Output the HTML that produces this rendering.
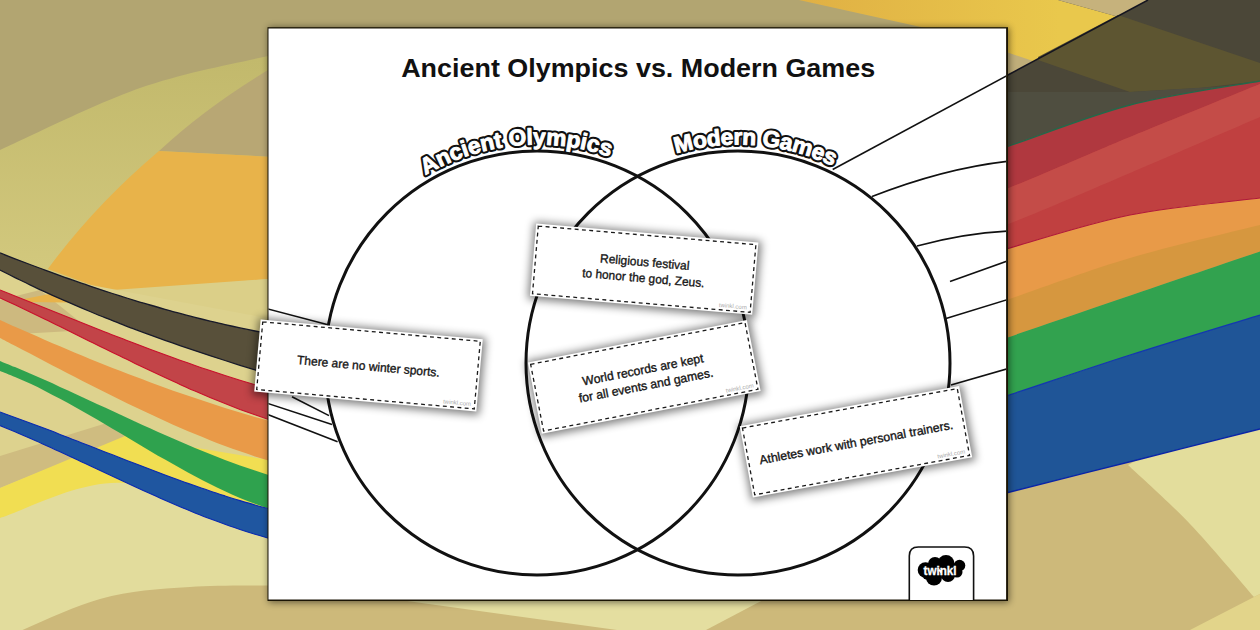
<!DOCTYPE html>
<html><head><meta charset="utf-8"><style>
html,body{margin:0;padding:0;width:1260px;height:630px;overflow:hidden;background:#b2a571;}
svg{display:block;}
</style></head><body>
<svg width="1260" height="630" viewBox="0 0 1260 630">
<defs>
<filter id="pshadow" x="-10%" y="-10%" width="120%" height="120%"><feGaussianBlur stdDeviation="3.5"/></filter>
<filter id="cshadow" x="-20%" y="-50%" width="140%" height="200%"><feGaussianBlur stdDeviation="4"/></filter>
<linearGradient id="yg" x1="800" y1="0" x2="1060" y2="0" gradientUnits="userSpaceOnUse"><stop offset="0" stop-color="#e0b044"/><stop offset="1" stop-color="#e9c84c"/></linearGradient>
<linearGradient id="pg" x1="0" y1="60" x2="0" y2="280" gradientUnits="userSpaceOnUse"><stop offset="0" stop-color="#c2b96c"/><stop offset="1" stop-color="#d3c97e"/></linearGradient>
<clipPath id="pclip"><rect x="268.5" y="28.5" width="737.6" height="571"/></clipPath>
<path id="arc1" d="M347.8,253.7 A218.5,218.5 0 0 1 726.2,253.7"/>
<path id="arc2" d="M548.8,253.7 A218.5,218.5 0 0 1 927.2,253.7"/>
</defs>
<rect x="0" y="0" width="1260" height="630" fill="#b2a571"/>
<path d="M0.0,150.0 C23.3,139.7 95.3,103.7 140.0,88.0 C184.7,72.3 236.3,63.2 268.0,56.0 C299.7,48.8 319.7,46.8 330.0,45.0 L330.0,700.0 L0.0,700.0Z" fill="url(#pg)" />
<path d="M330,60 L268,70 Q205,108 159,151 L330,160 Z" fill="#b8a774"/>
<path d="M159,151 L330,160 L330,277 L268,279 L113,293 L47.8,269 Q95,205 159,151 Z" fill="#e8b34a"/>
<polygon points="113.0,290.0 268.0,279.0 330.0,276.0 330.0,345.0 200.0,328.0" fill="#dbcf88" />
<polygon points="0.0,268.0 330.0,330.0 330.0,560.0 0.0,560.0" fill="#ddd28e" />
<polygon points="0.0,300.0 40.0,290.0 90.0,330.0 0.0,335.0" fill="#cdb97f" />
<polygon points="0.0,456.0 110.0,422.0 140.0,432.0 0.0,488.0" fill="#cfbc80" />
<polygon points="24.0,299.0 60.0,292.0 100.0,303.0 30.0,302.0" fill="#e8b34a" />
<polygon points="0.0,488.0 125.0,436.0 330.0,470.0 330.0,548.0 124.0,483.0 0.0,518.0" fill="#f1de52" />
<path d="M0.0,518.0 C20.7,512.2 79.3,479.7 124.0,483.0 C168.7,486.3 233.7,527.2 268.0,538.0 C302.3,548.8 319.7,546.3 330.0,548.0 L330.0,640.0 L0.0,640.0Z" fill="#e2dc9c" />
<path d="M0.0,640.0 C16.7,633.2 68.3,607.8 100.0,599.0 C131.7,590.2 156.7,589.2 190.0,587.0 C223.3,584.8 276.7,585.8 300.0,586.0 C323.3,586.2 325.0,587.7 330.0,588.0 L330.0,640.0 L0.0,640.0Z" fill="#cdb97a" />
<path d="M0.0,252.9 C2.5,253.9 10.0,256.9 15.0,258.8 C20.0,260.7 25.0,262.6 30.0,264.5 C35.0,266.4 40.0,268.3 45.0,270.1 C50.0,272.0 55.0,273.8 60.0,275.6 C65.0,277.4 70.0,279.2 75.0,280.9 C80.0,282.7 85.0,284.4 90.0,286.1 C95.0,287.8 100.0,289.4 105.0,291.1 C110.0,292.7 115.0,294.3 120.0,295.9 C125.0,297.5 130.0,299.0 135.0,300.6 C140.0,302.1 145.0,303.6 150.0,305.0 C155.0,306.5 160.0,307.9 165.0,309.3 C170.0,310.7 175.0,312.1 180.0,313.4 C185.0,314.8 190.0,316.1 195.0,317.4 C200.0,318.6 205.0,319.9 210.0,321.1 C215.0,322.3 220.0,323.5 225.0,324.6 C230.0,325.7 235.0,326.8 240.0,327.9 C245.0,328.9 250.0,330.0 255.0,331.0 C260.0,331.9 265.0,332.9 270.0,333.8 C275.0,334.7 280.0,335.6 285.0,336.4 C290.0,337.3 295.0,338.1 300.0,338.8 C305.0,339.6 310.0,340.3 315.0,341.0 C320.0,341.6 327.5,342.5 330.0,342.9 L330.0,392.1 C327.5,391.3 320.0,389.2 315.0,387.7 C310.0,386.3 305.0,384.8 300.0,383.4 C295.0,381.9 290.0,380.4 285.0,379.0 C280.0,377.5 275.0,376.0 270.0,374.5 C265.0,373.0 260.0,371.5 255.0,369.9 C250.0,368.4 245.0,366.8 240.0,365.3 C235.0,363.7 230.0,362.1 225.0,360.5 C220.0,358.9 215.0,357.3 210.0,355.7 C205.0,354.0 200.0,352.4 195.0,350.7 C190.0,349.0 185.0,347.3 180.0,345.6 C175.0,343.8 170.0,342.1 165.0,340.3 C160.0,338.5 155.0,336.7 150.0,334.9 C145.0,333.1 140.0,331.2 135.0,329.3 C130.0,327.5 125.0,325.5 120.0,323.6 C115.0,321.7 110.0,319.7 105.0,317.7 C100.0,315.7 95.0,313.6 90.0,311.5 C85.0,309.5 80.0,307.4 75.0,305.2 C70.0,303.1 65.0,300.9 60.0,298.7 C55.0,296.4 50.0,294.2 45.0,291.9 C40.0,289.6 35.0,287.2 30.0,284.8 C25.0,282.5 20.0,280.0 15.0,277.6 C10.0,275.1 2.5,271.3 0.0,270.0 Z" fill="#58503a" />
<path d="M0.0,289.9 C2.5,290.9 10.0,293.9 15.0,295.9 C20.0,297.9 25.0,299.9 30.0,301.9 C35.0,303.9 40.0,306.0 45.0,308.0 C50.0,310.0 55.0,312.0 60.0,314.0 C65.0,316.0 70.0,318.0 75.0,320.0 C80.0,322.0 85.0,324.0 90.0,326.0 C95.0,328.0 100.0,329.9 105.0,331.9 C110.0,333.9 115.0,335.8 120.0,337.7 C125.0,339.7 130.0,341.6 135.0,343.5 C140.0,345.4 145.0,347.3 150.0,349.2 C155.0,351.0 160.0,352.9 165.0,354.7 C170.0,356.6 175.0,358.4 180.0,360.2 C185.0,361.9 190.0,363.7 195.0,365.4 C200.0,367.2 205.0,368.9 210.0,370.6 C215.0,372.2 220.0,373.9 225.0,375.5 C230.0,377.1 235.0,378.7 240.0,380.3 C245.0,381.8 250.0,383.3 255.0,384.8 C260.0,386.3 265.0,387.7 270.0,389.1 C275.0,390.5 280.0,391.9 285.0,393.2 C290.0,394.5 295.0,395.8 300.0,397.0 C305.0,398.2 310.0,399.4 315.0,400.6 C320.0,401.7 327.5,403.3 330.0,403.8 L330.0,435.6 C327.5,435.1 320.0,433.6 315.0,432.4 C310.0,431.3 305.0,430.0 300.0,428.7 C295.0,427.4 290.0,426.0 285.0,424.5 C280.0,423.0 275.0,421.5 270.0,419.9 C265.0,418.2 260.0,416.5 255.0,414.8 C250.0,413.0 245.0,411.2 240.0,409.4 C235.0,407.5 230.0,405.5 225.0,403.6 C220.0,401.6 215.0,399.5 210.0,397.5 C205.0,395.4 200.0,393.2 195.0,391.1 C190.0,388.9 185.0,386.7 180.0,384.4 C175.0,382.2 170.0,379.9 165.0,377.6 C160.0,375.3 155.0,372.9 150.0,370.6 C145.0,368.2 140.0,365.8 135.0,363.4 C130.0,361.0 125.0,358.6 120.0,356.1 C115.0,353.7 110.0,351.2 105.0,348.8 C100.0,346.3 95.0,343.8 90.0,341.4 C85.0,338.9 80.0,336.4 75.0,333.9 C70.0,331.5 65.0,329.0 60.0,326.6 C55.0,324.1 50.0,321.6 45.0,319.2 C40.0,316.8 35.0,314.4 30.0,312.0 C25.0,309.6 20.0,307.2 15.0,304.8 C10.0,302.5 2.5,299.0 0.0,297.9 Z" fill="#c24448" />
<path d="M0.0,319.9 C2.5,321.0 10.0,324.4 15.0,326.7 C20.0,328.9 25.0,331.1 30.0,333.3 C35.0,335.5 40.0,337.7 45.0,339.9 C50.0,342.1 55.0,344.2 60.0,346.3 C65.0,348.5 70.0,350.6 75.0,352.7 C80.0,354.7 85.0,356.8 90.0,358.9 C95.0,360.9 100.0,362.9 105.0,364.9 C110.0,366.9 115.0,368.9 120.0,370.8 C125.0,372.8 130.0,374.7 135.0,376.6 C140.0,378.5 145.0,380.4 150.0,382.2 C155.0,384.1 160.0,385.9 165.0,387.7 C170.0,389.5 175.0,391.3 180.0,393.0 C185.0,394.7 190.0,396.5 195.0,398.1 C200.0,399.8 205.0,401.5 210.0,403.1 C215.0,404.7 220.0,406.3 225.0,407.9 C230.0,409.4 235.0,411.0 240.0,412.5 C245.0,414.0 250.0,415.4 255.0,416.9 C260.0,418.3 265.0,419.7 270.0,421.1 C275.0,422.4 280.0,423.8 285.0,425.1 C290.0,426.4 295.0,427.6 300.0,428.9 C305.0,430.1 310.0,431.3 315.0,432.5 C320.0,433.6 327.5,435.3 330.0,435.8 L330.0,474.9 C327.5,474.4 320.0,473.1 315.0,472.1 C310.0,471.2 305.0,470.1 300.0,468.9 C295.0,467.7 290.0,466.5 285.0,465.2 C280.0,463.9 275.0,462.5 270.0,461.0 C265.0,459.5 260.0,458.0 255.0,456.4 C250.0,454.7 245.0,453.1 240.0,451.3 C235.0,449.6 230.0,447.8 225.0,445.9 C220.0,444.1 215.0,442.1 210.0,440.2 C205.0,438.2 200.0,436.1 195.0,434.1 C190.0,432.0 185.0,429.9 180.0,427.7 C175.0,425.5 170.0,423.3 165.0,421.0 C160.0,418.8 155.0,416.5 150.0,414.1 C145.0,411.8 140.0,409.4 135.0,407.0 C130.0,404.6 125.0,402.2 120.0,399.7 C115.0,397.3 110.0,394.8 105.0,392.3 C100.0,389.8 95.0,387.3 90.0,384.7 C85.0,382.2 80.0,379.6 75.0,377.0 C70.0,374.5 65.0,371.9 60.0,369.3 C55.0,366.7 50.0,364.1 45.0,361.5 C40.0,358.9 35.0,356.2 30.0,353.6 C25.0,351.0 20.0,348.4 15.0,345.8 C10.0,343.2 2.5,339.3 0.0,338.0 Z" fill="#e99a48" />
<path d="M0.0,360.9 C2.5,362.0 10.0,365.0 15.0,367.1 C20.0,369.2 25.0,371.4 30.0,373.5 C35.0,375.7 40.0,377.9 45.0,380.1 C50.0,382.3 55.0,384.6 60.0,386.9 C65.0,389.1 70.0,391.4 75.0,393.7 C80.0,396.0 85.0,398.3 90.0,400.7 C95.0,403.0 100.0,405.3 105.0,407.6 C110.0,409.9 115.0,412.3 120.0,414.6 C125.0,416.9 130.0,419.2 135.0,421.5 C140.0,423.8 145.0,426.1 150.0,428.3 C155.0,430.6 160.0,432.8 165.0,435.1 C170.0,437.3 175.0,439.5 180.0,441.6 C185.0,443.8 190.0,445.9 195.0,448.0 C200.0,450.1 205.0,452.1 210.0,454.1 C215.0,456.1 220.0,458.0 225.0,459.9 C230.0,461.8 235.0,463.7 240.0,465.5 C245.0,467.3 250.0,469.0 255.0,470.6 C260.0,472.3 265.0,473.9 270.0,475.4 C275.0,476.9 280.0,478.4 285.0,479.8 C290.0,481.1 295.0,482.4 300.0,483.6 C305.0,484.8 310.0,486.0 315.0,487.0 C320.0,488.0 327.5,489.4 330.0,489.8 L330.0,519.7 C327.5,519.5 320.0,519.2 315.0,518.6 C310.0,518.1 305.0,517.3 300.0,516.4 C295.0,515.5 290.0,514.4 285.0,513.2 C280.0,511.9 275.0,510.5 270.0,508.9 C265.0,507.3 260.0,505.6 255.0,503.8 C250.0,501.9 245.0,499.9 240.0,497.9 C235.0,495.8 230.0,493.5 225.0,491.2 C220.0,488.9 215.0,486.5 210.0,484.0 C205.0,481.5 200.0,478.9 195.0,476.3 C190.0,473.6 185.0,470.9 180.0,468.1 C175.0,465.3 170.0,462.5 165.0,459.6 C160.0,456.8 155.0,453.8 150.0,450.9 C145.0,448.0 140.0,445.0 135.0,442.0 C130.0,439.1 125.0,436.1 120.0,433.1 C115.0,430.1 110.0,427.2 105.0,424.2 C100.0,421.3 95.0,418.3 90.0,415.5 C85.0,412.6 80.0,409.7 75.0,406.9 C70.0,404.2 65.0,401.4 60.0,398.7 C55.0,396.1 50.0,393.5 45.0,390.9 C40.0,388.4 35.0,386.0 30.0,383.6 C25.0,381.3 20.0,379.1 15.0,376.9 C10.0,374.8 2.5,371.9 0.0,370.9 Z" fill="#2fa24e" />
<path d="M0.0,412.0 C2.5,412.9 10.0,415.6 15.0,417.4 C20.0,419.2 25.0,421.1 30.0,422.9 C35.0,424.8 40.0,426.7 45.0,428.6 C50.0,430.5 55.0,432.4 60.0,434.4 C65.0,436.3 70.0,438.2 75.0,440.2 C80.0,442.1 85.0,444.1 90.0,446.1 C95.0,448.0 100.0,450.0 105.0,451.9 C110.0,453.9 115.0,455.8 120.0,457.8 C125.0,459.7 130.0,461.7 135.0,463.6 C140.0,465.5 145.0,467.4 150.0,469.3 C155.0,471.2 160.0,473.1 165.0,475.0 C170.0,476.8 175.0,478.7 180.0,480.5 C185.0,482.3 190.0,484.1 195.0,485.8 C200.0,487.6 205.0,489.3 210.0,491.0 C215.0,492.7 220.0,494.3 225.0,495.9 C230.0,497.5 235.0,499.1 240.0,500.6 C245.0,502.1 250.0,503.6 255.0,505.0 C260.0,506.5 265.0,507.8 270.0,509.2 C275.0,510.5 280.0,511.7 285.0,512.9 C290.0,514.2 295.0,515.3 300.0,516.4 C305.0,517.5 310.0,518.5 315.0,519.4 C320.0,520.4 327.5,521.6 330.0,522.1 L330.0,550.0 C327.5,549.7 320.0,548.8 315.0,548.1 C310.0,547.3 305.0,546.5 300.0,545.5 C295.0,544.5 290.0,543.5 285.0,542.3 C280.0,541.2 275.0,539.9 270.0,538.6 C265.0,537.2 260.0,535.8 255.0,534.3 C250.0,532.8 245.0,531.2 240.0,529.5 C235.0,527.9 230.0,526.1 225.0,524.3 C220.0,522.5 215.0,520.7 210.0,518.8 C205.0,516.9 200.0,514.9 195.0,512.9 C190.0,510.8 185.0,508.8 180.0,506.7 C175.0,504.5 170.0,502.4 165.0,500.2 C160.0,498.0 155.0,495.8 150.0,493.5 C145.0,491.3 140.0,489.0 135.0,486.7 C130.0,484.4 125.0,482.1 120.0,479.8 C115.0,477.5 110.0,475.1 105.0,472.8 C100.0,470.4 95.0,468.1 90.0,465.7 C85.0,463.4 80.0,461.1 75.0,458.7 C70.0,456.4 65.0,454.1 60.0,451.8 C55.0,449.5 50.0,447.2 45.0,445.0 C40.0,442.7 35.0,440.5 30.0,438.3 C25.0,436.1 20.0,433.9 15.0,431.8 C10.0,429.7 2.5,426.6 0.0,425.6 Z" fill="#1f56a0" />
<path d="M0.0,252.9 C2.5,253.9 10.0,256.9 15.0,258.8 C20.0,260.7 25.0,262.6 30.0,264.5 C35.0,266.4 40.0,268.3 45.0,270.1 C50.0,272.0 55.0,273.8 60.0,275.6 C65.0,277.4 70.0,279.2 75.0,280.9 C80.0,282.7 85.0,284.4 90.0,286.1 C95.0,287.8 100.0,289.4 105.0,291.1 C110.0,292.7 115.0,294.3 120.0,295.9 C125.0,297.5 130.0,299.0 135.0,300.6 C140.0,302.1 145.0,303.6 150.0,305.0 C155.0,306.5 160.0,307.9 165.0,309.3 C170.0,310.7 175.0,312.1 180.0,313.4 C185.0,314.8 190.0,316.1 195.0,317.4 C200.0,318.6 205.0,319.9 210.0,321.1 C215.0,322.3 220.0,323.5 225.0,324.6 C230.0,325.7 235.0,326.8 240.0,327.9 C245.0,328.9 250.0,330.0 255.0,331.0 C260.0,331.9 265.0,332.9 270.0,333.8 C275.0,334.7 280.0,335.6 285.0,336.4 C290.0,337.3 295.0,338.1 300.0,338.8 C305.0,339.6 310.0,340.3 315.0,341.0 C320.0,341.6 327.5,342.5 330.0,342.9 " fill="none" stroke="#181a2a" stroke-width="1.3" />
<path d="M0.0,270.0 C2.5,271.3 10.0,275.1 15.0,277.6 C20.0,280.0 25.0,282.5 30.0,284.8 C35.0,287.2 40.0,289.6 45.0,291.9 C50.0,294.2 55.0,296.4 60.0,298.7 C65.0,300.9 70.0,303.1 75.0,305.2 C80.0,307.4 85.0,309.5 90.0,311.5 C95.0,313.6 100.0,315.7 105.0,317.7 C110.0,319.7 115.0,321.7 120.0,323.6 C125.0,325.5 130.0,327.5 135.0,329.3 C140.0,331.2 145.0,333.1 150.0,334.9 C155.0,336.7 160.0,338.5 165.0,340.3 C170.0,342.1 175.0,343.8 180.0,345.6 C185.0,347.3 190.0,349.0 195.0,350.7 C200.0,352.4 205.0,354.0 210.0,355.7 C215.0,357.3 220.0,358.9 225.0,360.5 C230.0,362.1 235.0,363.7 240.0,365.3 C245.0,366.8 250.0,368.4 255.0,369.9 C260.0,371.5 265.0,373.0 270.0,374.5 C275.0,376.0 280.0,377.5 285.0,379.0 C290.0,380.4 295.0,381.9 300.0,383.4 C305.0,384.8 310.0,386.3 315.0,387.7 C320.0,389.2 327.5,391.3 330.0,392.1 " fill="none" stroke="#181a2a" stroke-width="1.3" />
<path d="M0.0,289.9 C2.5,290.9 10.0,293.9 15.0,295.9 C20.0,297.9 25.0,299.9 30.0,301.9 C35.0,303.9 40.0,306.0 45.0,308.0 C50.0,310.0 55.0,312.0 60.0,314.0 C65.0,316.0 70.0,318.0 75.0,320.0 C80.0,322.0 85.0,324.0 90.0,326.0 C95.0,328.0 100.0,329.9 105.0,331.9 C110.0,333.9 115.0,335.8 120.0,337.7 C125.0,339.7 130.0,341.6 135.0,343.5 C140.0,345.4 145.0,347.3 150.0,349.2 C155.0,351.0 160.0,352.9 165.0,354.7 C170.0,356.6 175.0,358.4 180.0,360.2 C185.0,361.9 190.0,363.7 195.0,365.4 C200.0,367.2 205.0,368.9 210.0,370.6 C215.0,372.2 220.0,373.9 225.0,375.5 C230.0,377.1 235.0,378.7 240.0,380.3 C245.0,381.8 250.0,383.3 255.0,384.8 C260.0,386.3 265.0,387.7 270.0,389.1 C275.0,390.5 280.0,391.9 285.0,393.2 C290.0,394.5 295.0,395.8 300.0,397.0 C305.0,398.2 310.0,399.4 315.0,400.6 C320.0,401.7 327.5,403.3 330.0,403.8 " fill="none" stroke="#c8102c" stroke-width="1.1" />
<path d="M0.0,297.9 C2.5,299.0 10.0,302.5 15.0,304.8 C20.0,307.2 25.0,309.6 30.0,312.0 C35.0,314.4 40.0,316.8 45.0,319.2 C50.0,321.6 55.0,324.1 60.0,326.6 C65.0,329.0 70.0,331.5 75.0,333.9 C80.0,336.4 85.0,338.9 90.0,341.4 C95.0,343.8 100.0,346.3 105.0,348.8 C110.0,351.2 115.0,353.7 120.0,356.1 C125.0,358.6 130.0,361.0 135.0,363.4 C140.0,365.8 145.0,368.2 150.0,370.6 C155.0,372.9 160.0,375.3 165.0,377.6 C170.0,379.9 175.0,382.2 180.0,384.4 C185.0,386.7 190.0,388.9 195.0,391.1 C200.0,393.2 205.0,395.4 210.0,397.5 C215.0,399.5 220.0,401.6 225.0,403.6 C230.0,405.5 235.0,407.5 240.0,409.4 C245.0,411.2 250.0,413.0 255.0,414.8 C260.0,416.5 265.0,418.2 270.0,419.9 C275.0,421.5 280.0,423.0 285.0,424.5 C290.0,426.0 295.0,427.4 300.0,428.7 C305.0,430.0 310.0,431.3 315.0,432.4 C320.0,433.6 327.5,435.1 330.0,435.6 " fill="none" stroke="#c8102c" stroke-width="1.1" />
<path d="M0.0,412.0 C2.5,412.9 10.0,415.6 15.0,417.4 C20.0,419.2 25.0,421.1 30.0,422.9 C35.0,424.8 40.0,426.7 45.0,428.6 C50.0,430.5 55.0,432.4 60.0,434.4 C65.0,436.3 70.0,438.2 75.0,440.2 C80.0,442.1 85.0,444.1 90.0,446.1 C95.0,448.0 100.0,450.0 105.0,451.9 C110.0,453.9 115.0,455.8 120.0,457.8 C125.0,459.7 130.0,461.7 135.0,463.6 C140.0,465.5 145.0,467.4 150.0,469.3 C155.0,471.2 160.0,473.1 165.0,475.0 C170.0,476.8 175.0,478.7 180.0,480.5 C185.0,482.3 190.0,484.1 195.0,485.8 C200.0,487.6 205.0,489.3 210.0,491.0 C215.0,492.7 220.0,494.3 225.0,495.9 C230.0,497.5 235.0,499.1 240.0,500.6 C245.0,502.1 250.0,503.6 255.0,505.0 C260.0,506.5 265.0,507.8 270.0,509.2 C275.0,510.5 280.0,511.7 285.0,512.9 C290.0,514.2 295.0,515.3 300.0,516.4 C305.0,517.5 310.0,518.5 315.0,519.4 C320.0,520.4 327.5,521.6 330.0,522.1 " fill="none" stroke="#0a2ab0" stroke-width="1.1" />
<path d="M0.0,425.6 C2.5,426.6 10.0,429.7 15.0,431.8 C20.0,433.9 25.0,436.1 30.0,438.3 C35.0,440.5 40.0,442.7 45.0,445.0 C50.0,447.2 55.0,449.5 60.0,451.8 C65.0,454.1 70.0,456.4 75.0,458.7 C80.0,461.1 85.0,463.4 90.0,465.7 C95.0,468.1 100.0,470.4 105.0,472.8 C110.0,475.1 115.0,477.5 120.0,479.8 C125.0,482.1 130.0,484.4 135.0,486.7 C140.0,489.0 145.0,491.3 150.0,493.5 C155.0,495.8 160.0,498.0 165.0,500.2 C170.0,502.4 175.0,504.5 180.0,506.7 C185.0,508.8 190.0,510.8 195.0,512.9 C200.0,514.9 205.0,516.9 210.0,518.8 C215.0,520.7 220.0,522.5 225.0,524.3 C230.0,526.1 235.0,527.9 240.0,529.5 C245.0,531.2 250.0,532.8 255.0,534.3 C260.0,535.8 265.0,537.2 270.0,538.6 C275.0,539.9 280.0,541.2 285.0,542.3 C290.0,543.5 295.0,544.5 300.0,545.5 C305.0,546.5 310.0,547.3 315.0,548.1 C320.0,548.8 327.5,549.7 330.0,550.0 " fill="none" stroke="#0a2ab0" stroke-width="1.1" />
<rect x="300" y="586" width="960" height="50" fill="#cdb97a"/>
<path d="M400.0,600.0 L617.0,630.0L706.0,630.0 L763.0,600.0Z" fill="#e4dea0" />
<polygon points="960.0,0.0 1260.0,0.0 1260.0,100.0 960.0,160.0" fill="#4b4738" />
<polygon points="799.0,0.0 1058.0,0.0 1117.0,16.5 1006.0,76.0 960.0,80.0 960.0,40.0 927.6,28.6" fill="url(#yg)" />
<polygon points="1058.0,0.0 1148.0,0.0 1117.0,16.5" fill="#c6b27c" />
<polygon points="1006.0,52.0 1033.0,61.0 1006.0,76.0" fill="#c0ae7a" />
<polygon points="1038.0,57.0 1118.0,15.0 1260.0,63.0 1260.0,81.0 1200.0,88.0 1130.0,92.0 1038.0,60.0" fill="#5d5531" />
<polygon points="960.0,92.0 1130.0,92.0 1260.0,84.0 1260.0,150.0 960.0,150.0" fill="#4f4e40" />
<line x1="1006" y1="76" x2="1148" y2="0" stroke="#151520" stroke-width="1.5"/>
<path d="M960.0,160.0 C967.7,157.8 977.7,156.2 1006.0,147.0 C1034.3,137.8 1087.7,116.0 1130.0,105.0 C1172.3,94.0 1238.3,85.0 1260.0,81.0 L1260.0,198.0 C1238.3,200.8 1172.3,206.5 1130.0,215.0 C1087.7,223.5 1034.3,241.2 1006.0,249.0 C977.7,256.8 967.7,259.8 960.0,262.0 Z" fill="#c04040" />
<path d="M960.0,160.0 C967.7,157.8 977.7,156.2 1006.0,147.0 C1034.3,137.8 1087.7,116.0 1130.0,105.0 C1172.3,94.0 1238.3,85.0 1260.0,81.0 L1260.0,84.0 C1238.3,92.8 1156.8,126.0 1130.0,137.0 C1103.2,148.0 1119.7,141.3 1099.0,150.0 C1078.3,158.7 1029.2,180.3 1006.0,189.0 C982.8,197.7 967.7,199.8 960.0,202.0 Z" fill="#b0383f" />
<path d="M960.0,202.0 C967.7,199.8 982.8,197.7 1006.0,189.0 C1029.2,180.3 1078.3,158.7 1099.0,150.0 C1119.7,141.3 1103.2,148.0 1130.0,137.0 C1156.8,126.0 1238.3,92.8 1260.0,84.0 L1260.0,117.0 C1238.3,126.3 1172.3,155.0 1130.0,173.0 C1087.7,191.0 1034.3,214.2 1006.0,225.0 C977.7,235.8 967.7,235.8 960.0,238.0 Z" fill="#c44c48" />
<path d="M960.0,262.0 C967.7,259.8 977.7,256.8 1006.0,249.0 C1034.3,241.2 1087.7,223.5 1130.0,215.0 C1172.3,206.5 1238.3,200.8 1260.0,198.0 L1260.0,251.5 C1236.2,259.6 1159.3,285.6 1117.0,300.0 C1074.7,314.4 1032.2,329.0 1006.0,338.0 C979.8,347.0 967.7,351.3 960.0,354.0 Z" fill="#e89a48" />
<path d="M960.0,314.0 C967.7,311.7 977.7,309.3 1006.0,300.0 C1034.3,290.7 1087.7,270.5 1130.0,258.0 C1172.3,245.5 1238.3,230.5 1260.0,225.0 L1260.0,251.5 C1236.2,259.6 1159.3,285.6 1117.0,300.0 C1074.7,314.4 1032.2,329.0 1006.0,338.0 C979.8,347.0 967.7,351.3 960.0,354.0 Z" fill="#d6973f" />
<path d="M960.0,354.0 C967.7,351.3 979.8,347.0 1006.0,338.0 C1032.2,329.0 1074.7,314.4 1117.0,300.0 C1159.3,285.6 1236.2,259.6 1260.0,251.5 L1260.0,315.0 C1238.3,321.7 1172.3,341.5 1130.0,355.0 C1087.7,368.5 1034.3,386.8 1006.0,396.0 C977.7,405.2 967.7,407.7 960.0,410.0 Z" fill="#32a24f" />
<path d="M960.0,410.0 C967.7,407.7 977.7,405.2 1006.0,396.0 C1034.3,386.8 1087.7,368.5 1130.0,355.0 C1172.3,341.5 1238.3,321.7 1260.0,315.0 L1260.0,429.0 C1239.5,434.2 1179.3,449.3 1137.0,460.0 C1094.7,470.7 1035.5,485.5 1006.0,493.0 C976.5,500.5 967.7,503.0 960.0,505.0 Z" fill="#1f5597" />
<polygon points="960.0,505.0 1006.0,493.0 1137.0,460.0 1260.0,429.0 1260.0,630.0 960.0,630.0" fill="#cdb97a" />
<path d="M1128,465 C1138.3,474.8 1169.0,502.0 1190.0,524.0 C1211.0,546.0 1243.3,584.8 1254.0,597.0  L1260,594 L1260,429 L1137,460 Z" fill="#e3dd9c"/>
<polygon points="1254.0,597.0 1260.0,594.0 1260.0,630.0 1190.0,630.0" fill="#e2d48a" />
<path d="M960.0,160.0 C967.7,157.8 977.7,156.2 1006.0,147.0 C1034.3,137.8 1087.7,116.0 1130.0,105.0 C1172.3,94.0 1238.3,85.0 1260.0,81.0 " fill="none" stroke="#24684a" stroke-width="1.4" />
<path d="M960.0,262.0 C967.7,259.8 977.7,256.8 1006.0,249.0 C1034.3,241.2 1087.7,223.5 1130.0,215.0 C1172.3,206.5 1238.3,200.8 1260.0,198.0 " fill="none" stroke="#b0183a" stroke-width="1.2" />
<path d="M960.0,410.0 C967.7,407.7 977.7,405.2 1006.0,396.0 C1034.3,386.8 1087.7,368.5 1130.0,355.0 C1172.3,341.5 1238.3,321.7 1260.0,315.0 " fill="none" stroke="#1238b0" stroke-width="1.2" />
<path d="M960.0,505.0 C967.7,503.0 976.5,500.5 1006.0,493.0 C1035.5,485.5 1094.7,470.7 1137.0,460.0 C1179.3,449.3 1239.5,434.2 1260.0,429.0 " fill="none" stroke="#0a24a8" stroke-width="1.3" />
<rect x="268.5" y="27.5" width="740.6" height="575" fill="#000" opacity="0.5" filter="url(#pshadow)"/>
<rect x="267.5" y="27.2" width="740.5" height="573.8" fill="#1a1404"/>
<rect x="268.5" y="28.5" width="737.6" height="571" fill="#ffffff"/>
<text x="638.2" y="76.7" text-anchor="middle" font-family="Liberation Sans" font-weight="bold" font-size="25" fill="#111111" textLength="474" lengthAdjust="spacingAndGlyphs">Ancient Olympics vs. Modern Games</text>
<g clip-path="url(#pclip)"><path d="M832.7,169.5 L1010.0,74.0" fill="none" stroke="#111111" stroke-width="1.6" /><path d="M872,196.5 Q945,168 1010,161" fill="none" stroke="#111111" stroke-width="1.6"/><path d="M917,246 Q965,233 1010,231" fill="none" stroke="#111111" stroke-width="1.6"/><path d="M950.0,281.4 L1010.0,260.0" fill="none" stroke="#111111" stroke-width="1.6" /><path d="M946.0,318.6 L1010.0,298.8" fill="none" stroke="#111111" stroke-width="1.6" /><path d="M951.0,385.0 L1010.0,368.0" fill="none" stroke="#111111" stroke-width="1.6" /><path d="M265.0,308.2 L327.0,324.5" fill="none" stroke="#111111" stroke-width="1.6" /><path d="M292.0,396.7 L329.0,415.6" fill="none" stroke="#111111" stroke-width="1.6" /><path d="M265.0,402.5 L332.0,424.4" fill="none" stroke="#111111" stroke-width="1.6" /><path d="M265.0,413.5 L337.6,441.7" fill="none" stroke="#111111" stroke-width="1.6" /></g>
<circle cx="537" cy="363" r="212" fill="none" stroke="#111111" stroke-width="3"/>
<circle cx="738" cy="363" r="212" fill="none" stroke="#111111" stroke-width="3"/>
<text font-family="Liberation Sans" font-weight="bold" font-size="22.6" fill="#111111" stroke="#111111" stroke-width="5.2" stroke-linejoin="round"><textPath href="#arc1" startOffset="207.1" text-anchor="middle" textLength="191" lengthAdjust="spacing">Ancient Olympics</textPath></text><text font-family="Liberation Sans" font-weight="bold" font-size="22.6" fill="#fff" stroke="#fff" stroke-width="1.0" stroke-linejoin="round"><textPath href="#arc1" startOffset="207.1" text-anchor="middle" textLength="191" lengthAdjust="spacing">Ancient Olympics</textPath></text>
<text font-family="Liberation Sans" font-weight="bold" font-size="22.6" fill="#111111" stroke="#111111" stroke-width="5.2" stroke-linejoin="round"><textPath href="#arc2" startOffset="246.4" text-anchor="middle" textLength="161" lengthAdjust="spacing">Modern Games</textPath></text><text font-family="Liberation Sans" font-weight="bold" font-size="22.6" fill="#fff" stroke="#fff" stroke-width="1.0" stroke-linejoin="round"><textPath href="#arc2" startOffset="246.4" text-anchor="middle" textLength="161" lengthAdjust="spacing">Modern Games</textPath></text>
<g transform="translate(368.5,365.4) rotate(5.10)"><rect x="-114.0" y="-38.75" width="228" height="77.5" fill="#000" opacity="0.5" filter="url(#cshadow)" transform="translate(0.5,1)"/><rect x="-111.5" y="-36.25" width="223" height="72.5" fill="#fff"/><rect x="-109.2" y="-33.95" width="218.4" height="67.9" fill="none" stroke="#1a1a1a" stroke-width="1.3" stroke-dasharray="3.9 3.4"/><text x="0" y="5.0" text-anchor="middle" font-family="Liberation Sans" font-size="12.3" fill="#151515" stroke="#151515" stroke-width="0.35" textLength="143" lengthAdjust="spacingAndGlyphs">There are no winter sports.</text><text x="105.5" y="31.25" text-anchor="end" font-family="Liberation Sans" font-size="6" fill="#aaa">twinkl.com</text></g>
<g transform="translate(644.2,269.2) rotate(4.90)"><rect x="-114.0" y="-38.75" width="228" height="77.5" fill="#000" opacity="0.5" filter="url(#cshadow)" transform="translate(0.5,1)"/><rect x="-111.5" y="-36.25" width="223" height="72.5" fill="#fff"/><rect x="-109.2" y="-33.95" width="218.4" height="67.9" fill="none" stroke="#1a1a1a" stroke-width="1.3" stroke-dasharray="3.9 3.4"/><text x="0" y="-3.0" text-anchor="middle" font-family="Liberation Sans" font-size="12.3" fill="#151515" stroke="#151515" stroke-width="0.35" textLength="89.5" lengthAdjust="spacingAndGlyphs">Religious festival</text><text x="0" y="13.0" text-anchor="middle" font-family="Liberation Sans" font-size="12.3" fill="#151515" stroke="#151515" stroke-width="0.35" textLength="122.5" lengthAdjust="spacingAndGlyphs">to honor the god, Zeus.</text><text x="105.5" y="31.25" text-anchor="end" font-family="Liberation Sans" font-size="6" fill="#aaa">twinkl.com</text></g>
<g transform="translate(644.3,376.8) rotate(-11.00)"><rect x="-114.0" y="-38.75" width="228" height="77.5" fill="#000" opacity="0.5" filter="url(#cshadow)" transform="translate(0.5,1)"/><rect x="-111.5" y="-36.25" width="223" height="72.5" fill="#fff"/><rect x="-109.2" y="-33.95" width="218.4" height="67.9" fill="none" stroke="#1a1a1a" stroke-width="1.3" stroke-dasharray="3.9 3.4"/><text x="0" y="-3.0" text-anchor="middle" font-family="Liberation Sans" font-size="12.3" fill="#151515" stroke="#151515" stroke-width="0.35" textLength="123" lengthAdjust="spacingAndGlyphs">World records are kept</text><text x="0" y="13.0" text-anchor="middle" font-family="Liberation Sans" font-size="12.3" fill="#151515" stroke="#151515" stroke-width="0.35" textLength="136.5" lengthAdjust="spacingAndGlyphs">for all events and games.</text><text x="105.5" y="31.25" text-anchor="end" font-family="Liberation Sans" font-size="6" fill="#aaa">twinkl.com</text></g>
<g transform="translate(856.0,441.7) rotate(-10.40)"><rect x="-114.0" y="-38.75" width="228" height="77.5" fill="#000" opacity="0.5" filter="url(#cshadow)" transform="translate(0.5,1)"/><rect x="-111.5" y="-36.25" width="223" height="72.5" fill="#fff"/><rect x="-109.2" y="-33.95" width="218.4" height="67.9" fill="none" stroke="#1a1a1a" stroke-width="1.3" stroke-dasharray="3.9 3.4"/><text x="0" y="5.0" text-anchor="middle" font-family="Liberation Sans" font-size="12.3" fill="#151515" stroke="#151515" stroke-width="0.35" textLength="196.5" lengthAdjust="spacingAndGlyphs">Athletes work with personal trainers.</text><text x="105.5" y="31.25" text-anchor="end" font-family="Liberation Sans" font-size="6" fill="#aaa">twinkl.com</text></g>
<path d="M909.3,600 V556 Q909.3,547 918.3,547 H964.6 Q973.6,547 973.6,556 V600" fill="#fff" stroke="#111111" stroke-width="1.6"/>
<g fill="#000"><circle cx="925.5" cy="570" r="7.8"/><circle cx="935" cy="564" r="7"/><circle cx="946" cy="563.5" r="8.5"/><circle cx="959.5" cy="565.5" r="5.8"/><circle cx="957" cy="572" r="5.5"/><circle cx="948" cy="575" r="7"/><circle cx="934" cy="577.5" r="8"/><circle cx="928" cy="574" r="6"/></g>
<text x="940" y="575" text-anchor="middle" font-family="Liberation Sans" font-weight="bold" font-size="12" fill="#fff" stroke="#fff" stroke-width="0.3" textLength="33" lengthAdjust="spacingAndGlyphs">twinkl</text>
</svg>
</body></html>
